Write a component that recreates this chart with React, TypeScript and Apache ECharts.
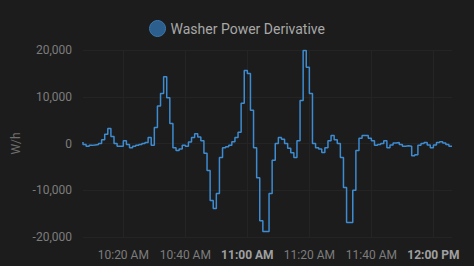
import React, { useEffect, useRef } from "react";
import * as echarts from "echarts";

const times: string[] = [
  "10:07", "10:08", "10:09", "10:10", "10:11", "10:12", "10:13", "10:14", "10:15", "10:16",
  "10:17", "10:18", "10:19", "10:20", "10:21", "10:22", "10:23", "10:24", "10:25", "10:26",
  "10:27", "10:28", "10:29", "10:30", "10:31", "10:32", "10:33", "10:34", "10:35", "10:36",
  "10:37", "10:38", "10:39", "10:40", "10:41", "10:42", "10:43", "10:44", "10:45", "10:46",
  "10:47", "10:48", "10:49", "10:50", "10:51", "10:52", "10:53", "10:54", "10:55", "10:56",
  "10:57", "10:58", "10:59", "11:00", "11:01", "11:02", "11:03", "11:04", "11:05", "11:06",
  "11:07", "11:08", "11:09", "11:10", "11:11", "11:12", "11:13", "11:14", "11:15", "11:16",
  "11:17", "11:18", "11:19", "11:20", "11:21", "11:22", "11:23", "11:24", "11:25", "11:26",
  "11:27", "11:28", "11:29", "11:30", "11:31", "11:32", "11:33", "11:34", "11:35", "11:36",
  "11:37", "11:38", "11:39", "11:40", "11:41", "11:42", "11:43", "11:44", "11:45", "11:46",
  "11:47", "11:48", "11:49", "11:50", "11:51", "11:52", "11:53", "11:54", "11:55", "11:56",
  "11:57", "11:58", "11:59", "12:00", "12:01", "12:02", "12:03", "12:04", "12:05", "12:06",
];

const values: number[] = [
  300, -200, -600, -400, -300, -200, 0, 800, 2000, 3200,
  1500, 0, -600, -600, 600, -200, -900, -600, -400, -200,
  0, 200, 1300, -400, 3400, 8000, 10700, 14300, 9800, 4300,
  -900, -1500, -1200, -400, -600, 300, 1300, 2100, 1400, 600,
  -2100, -5800, -12200, -13900, -10700, -3000, -900, -700, -400, 400,
  1300, 2400, 8600, 15600, 15000, 7100, -900, -7300, -16500, -18800,
  -18800, -10700, -3600, 0, 1300, 900, 0, -1000, -2000, -3000,
  600, 9200, 19900, 16300, 10700, 0, -900, -1200, -1900, -900,
  600, 1700, 800, 0, -3000, -9400, -16900, -16900, -10000, -1500,
  1100, 1700, 1700, 1100, 600, -400, -200, 0, 600, -900,
  -300, 100, 200, -200, -600, -500, -600, -2600, -2400, -400,
  0, 200, -300, -900, -300, 200, 400, 100, -200, -600,
];

const seriesName = "Washer Power Derivative";
const xTicks: string[] = ["10:20", "10:40", "11:00", "11:20", "11:40", "12:00"];
const yTicks: number[] = [-20000, -10000, 0, 10000, 20000];
const unitName = "W/h";

const toTs = (t: string) => new Date(`2024-01-01T${t}:00`).getTime();

export default function App() {
  const ref = useRef<HTMLDivElement>(null);
  useEffect(() => {
    if (!ref.current) return;
    const chart = echarts.init(ref.current, undefined, { renderer: "svg" });
    const data = times.map((t, i) => [toTs(t), values[i]]);
    const tickVals = xTicks.map(toTs);
    chart.setOption({
      animation: false,
      backgroundColor: "#1c1c1c",
      textStyle: { fontFamily: "Roboto" },
      legend: {
        show: true,
        top: 15,
        left: "center",
        icon: "circle",
        itemWidth: 16,
        itemHeight: 16,
        itemGap: 5,
        textStyle: { color: "#a8a8a8", fontSize: 14, fontFamily: "Roboto" },
        data: [
          {
            name: seriesName,
            itemStyle: { color: "#2c5f8e", borderColor: "#3a78b0", borderWidth: 1 },
          },
        ],
      },
      grid: { left: 83, right: 22, top: 50, bottom: 29, containLabel: false },
      xAxis: {
        type: "value",
        min: toTs(times[0]),
        max: toTs(times[times.length - 1]),
        axisLine: { show: false },
        axisTick: { show: false, customValues: tickVals },
        splitLine: { show: true, lineStyle: { color: "#242424", width: 1 } },
        axisLabel: {
          customValues: tickVals,
          color: "#7c7c7c",
          fontSize: 12,
          margin: 12,
          formatter: (v: number) => {
            const d = new Date(v);
            const h = d.getHours();
            const m = d.getMinutes();
            const h12 = h % 12 === 0 ? 12 : h % 12;
            const s = `${h12}:${String(m).padStart(2, "0")} ${h < 12 ? "AM" : "PM"}`;
            return m === 0 ? `{b|${s}}` : s;
          },
          rich: {
            b: { fontWeight: "bold", color: "#a0a0a0", fontSize: 12, fontFamily: "Roboto" },
          },
        },
      },
      yAxis: {
        type: "value",
        min: yTicks[0],
        max: yTicks[yTicks.length - 1],
        interval: 10000,
        name: unitName,
        nameLocation: "middle",
        nameGap: 58,
        nameRotate: 90,
        nameTextStyle: { color: "#6e6e6e", fontSize: 12 },
        axisLine: { show: false },
        axisTick: { show: false },
        splitLine: { show: true, lineStyle: { color: "#242424", width: 1 } },
        axisLabel: {
          color: "#7c7c7c",
          fontSize: 12,
          margin: 11,
          formatter: (v: number) => v.toLocaleString("en-US"),
        },
      },
      series: [
        {
          name: seriesName,
          type: "line",
          step: "start",
          showSymbol: false,
          data,
          lineStyle: { color: "#3d8bd0", width: 1.5 },
          itemStyle: { color: "#3d8bd0" },
        },
      ],
    });
    return () => chart.dispose();
  }, []);
  return <div ref={ref} style={{ width: 474, height: 266, position: "absolute", left: 0, top: 0 }} />;
}
